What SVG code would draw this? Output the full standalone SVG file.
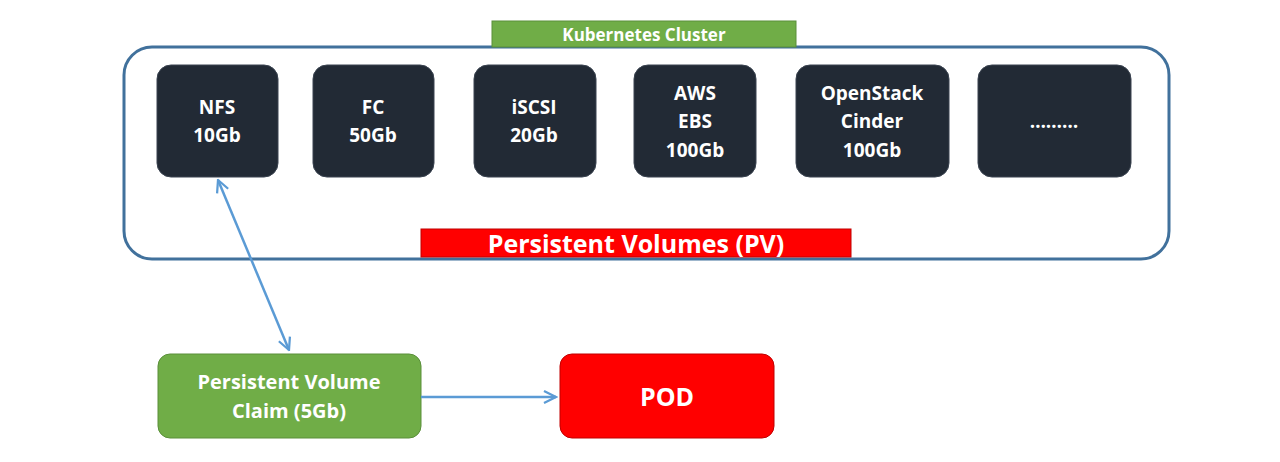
<svg xmlns="http://www.w3.org/2000/svg" width="1280" height="462" viewBox="0 0 1280 462">
<style>
.pv{fill:#222a35;stroke:#3a4350;stroke-width:1}
.t{font-family:"Open Sans","DejaVu Sans",sans-serif;font-weight:bold;fill:#fff;text-anchor:middle}
.c{stroke:#5b9bd5;stroke-width:2.5;fill:none}
</style>
<defs>
<marker id="a" viewBox="0 0 10 10" refX="9" refY="5" markerWidth="6" markerHeight="6" orient="auto-start-reverse" markerUnits="strokeWidth"><path d="M1 1L9 5L1 9" fill="none" stroke="#5b9bd5" stroke-width="1.5"/></marker>
</defs>
<rect width="1280" height="462" fill="#fff"/>
<g id="cluster">
<rect x="124" y="47" width="1045" height="212" rx="28" fill="#fff" stroke="#41719c" stroke-width="3"/>
</g>
<g id="k8s-label"><rect x="492" y="21" width="304" height="26" fill="#70ad47" stroke="#5a8f3a"/><text class="t" x="644" y="41" font-size="17">Kubernetes Cluster</text></g>
<g id="nfs"><rect class="pv" x="157" y="65" width="121" height="112" rx="14"/><text class="t" x="217" y="114" font-size="19">NFS</text><text class="t" x="217" y="142" font-size="19">10Gb</text></g>
<g id="fc"><rect class="pv" x="313" y="65" width="121" height="112" rx="14"/><text class="t" x="373" y="114" font-size="19">FC</text><text class="t" x="373" y="142" font-size="19">50Gb</text></g>
<g id="iscsi"><rect class="pv" x="474" y="65" width="122" height="112" rx="14"/><text class="t" x="534" y="114" font-size="19">iSCSI</text><text class="t" x="534" y="142" font-size="19">20Gb</text></g>
<g id="aws"><rect class="pv" x="634" y="65" width="122" height="112" rx="14"/><text class="t" x="695" y="100" font-size="19">AWS</text><text class="t" x="695" y="128" font-size="19">EBS</text><text class="t" x="695" y="157" font-size="19">100Gb</text></g>
<g id="openstack"><rect class="pv" x="796" y="65" width="153" height="112" rx="14"/><text class="t" x="872" y="100" font-size="19">OpenStack</text><text class="t" x="872" y="128" font-size="19">Cinder</text><text class="t" x="872" y="157" font-size="19">100Gb</text></g>
<g id="more"><rect class="pv" x="978" y="65" width="153" height="112" rx="14"/><text class="t" x="1054" y="128" font-size="19">………</text></g>
<g id="pv-label"><rect x="421" y="229" width="430" height="28" fill="#ff0000" stroke="#c00000"/><text class="t" x="636" y="253" font-size="25">Persistent Volumes (PV)</text></g>
<g id="pvc"><rect x="158" y="354" width="263" height="84" rx="12" fill="#70ad47" stroke="#5a8f3a"/><text class="t" x="289" y="389" font-size="20">Persistent Volume</text><text class="t" x="289" y="418" font-size="20">Claim (5Gb)</text></g>
<g id="pod"><rect x="560" y="354" width="214" height="84" rx="12" fill="#ff0000" stroke="#c00000"/><text class="t" x="667" y="406" font-size="25">POD</text></g>
<g id="connectors">
<line class="c" x1="218" y1="180" x2="289" y2="350" marker-start="url(#a)" marker-end="url(#a)"/>
<line class="c" x1="421" y1="397" x2="556" y2="397" marker-end="url(#a)"/>
</g>
</svg>
